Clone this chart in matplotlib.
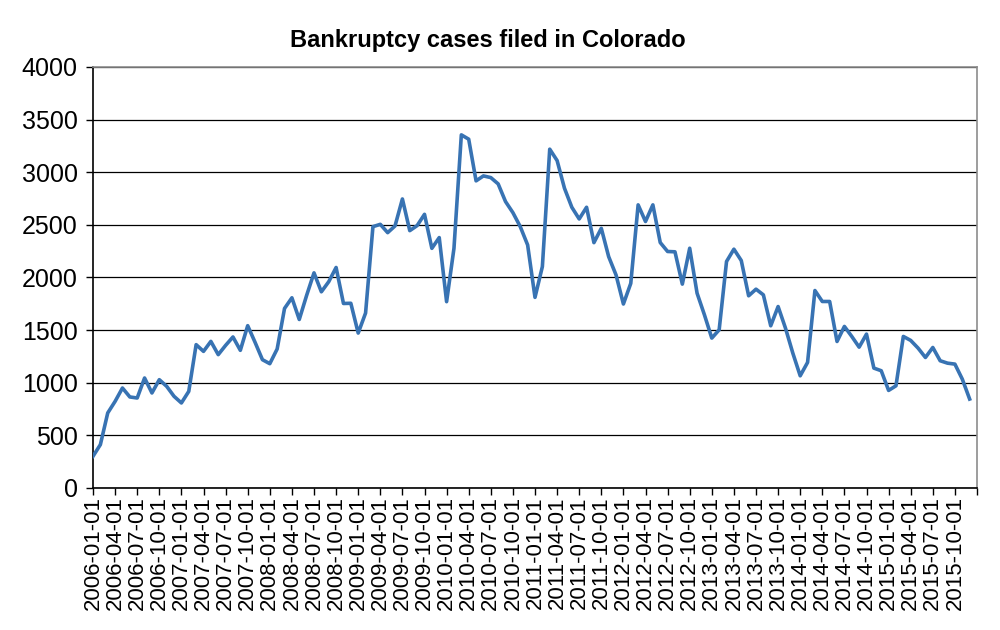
import matplotlib
matplotlib.use('Agg')
import numpy as np
import matplotlib.pyplot as plt

plt.rcParams['font.family'] = ['Liberation Sans', 'DejaVu Sans']

# monthly cases, 2006-01 .. 2015-12
years = list(range(2006, 2016))
cases_2006 = [301, 412, 713, 823, 950, 865, 855, 1045, 903, 1029, 966, 871]
cases_2007 = [808, 918, 1362, 1298, 1393, 1267, 1355, 1435, 1308, 1542, 1384, 1219]
cases_2008 = [1181, 1321, 1706, 1807, 1601, 1830, 2044, 1864, 1960, 2095, 1753, 1755]
cases_2009 = [1472, 1662, 2483, 2505, 2426, 2490, 2746, 2445, 2493, 2600, 2277, 2379]
cases_2010 = [1770, 2277, 3355, 3314, 2918, 2965, 2949, 2889, 2721, 2616, 2483, 2309]
cases_2011 = [1811, 2103, 3219, 3111, 2848, 2667, 2556, 2667, 2331, 2467, 2198, 2024]
cases_2012 = [1748, 1944, 2690, 2532, 2690, 2332, 2247, 2244, 1937, 2278, 1851, 1645]
cases_2013 = [1424, 1503, 2152, 2269, 2161, 1826, 1889, 1835, 1541, 1724, 1519, 1281]
cases_2014 = [1066, 1193, 1876, 1772, 1772, 1392, 1535, 1440, 1338, 1462, 1139, 1114]
cases_2015 = [927, 971, 1440, 1402, 1329, 1240, 1335, 1209, 1186, 1177, 1035, 845]

cases = (cases_2006 + cases_2007 + cases_2008 + cases_2009 + cases_2010
         + cases_2011 + cases_2012 + cases_2013 + cases_2014 + cases_2015)

tick_months = ['01', '04', '07', '10']
tick_labels = ['%d-%s-01' % (y, m) for y in years for m in tick_months]
yticks = [0, 500, 1000, 1500, 2000, 2500, 3000, 3500, 4000]

fig = plt.figure(figsize=(10, 6.3), dpi=100)
ax = fig.add_axes([0.093, 0.2254, 0.884, 0.6683])

x = np.arange(len(cases))
ax.plot(x, cases, color='#3873b3', linewidth=2.6, zorder=3)

ax.set_xlim(0, 120)
ax.set_ylim(0, 4000)
ax.set_yticks(yticks)
ax.set_yticklabels([str(v) for v in yticks], fontsize=18)
ax.set_xticks(list(range(0, 121, 3)))
ax.set_xticklabels(tick_labels + [''], rotation=90, fontsize=16)

ax.grid(axis='y', color='black', linewidth=0.9)
ax.set_axisbelow(True)

ax.spines['left'].set_color('black')
ax.spines['bottom'].set_color('black')
ax.spines['top'].set_color('#8c8c8c')
ax.spines['right'].set_color('#8c8c8c')
for s in ax.spines.values():
    s.set_linewidth(1.2)

ax.tick_params(axis='both', direction='out', length=5, width=1, colors='black')
ax.tick_params(axis='y', pad=6)
ax.tick_params(axis='x', pad=1)

fig.text(0.488, 0.935, 'Bankruptcy cases filed in Colorado',
         ha='center', va='center', fontsize=17, fontweight='bold')

fig.savefig('out.png', dpi=100, facecolor='white')
